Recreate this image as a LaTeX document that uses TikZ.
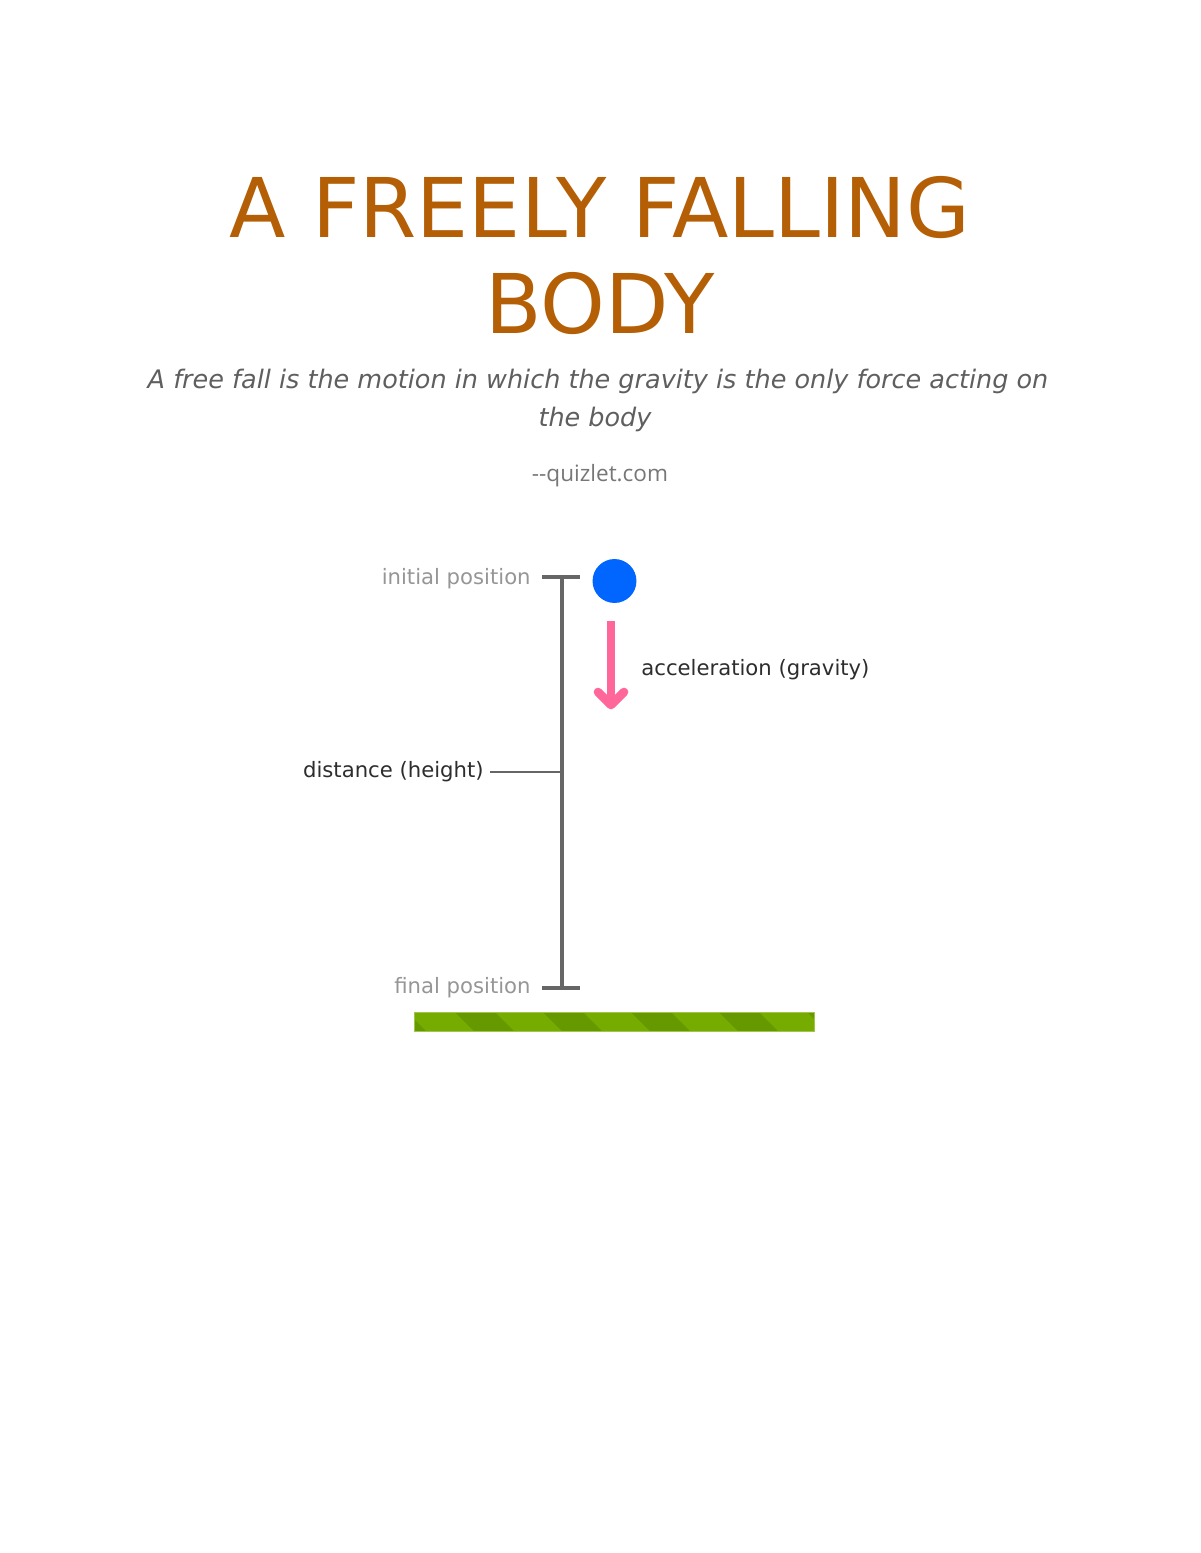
\documentclass[tikz,border=0pt]{standalone}
\usepackage{fontspec}
\setmainfont{DejaVu Sans}
\newfontfamily\opensans{Open Sans}
\definecolor{titlec}{RGB}{180,95,6}
\definecolor{subc}{RGB}{95,95,95}
\definecolor{quizc}{RGB}{119,119,119}
\definecolor{lightlbl}{RGB}{150,150,150}
\definecolor{darklbl}{RGB}{45,45,45}
\definecolor{axisc}{RGB}{102,102,102}
\definecolor{ballc}{RGB}{0,102,255}
\definecolor{arrowc}{RGB}{255,102,153}
\definecolor{grassL}{RGB}{118,172,0}
\definecolor{grassD}{RGB}{102,153,0}
\begin{document}
\begin{tikzpicture}[x=0.51pt,y=-0.51pt,
  titletxt/.style={inner sep=0pt, text=titlec, font=\fontsize{42}{49}\selectfont, anchor=base},
  subtxt/.style={inner sep=0pt, text=subc, font=\itshape\fontsize{13}{19}\selectfont, anchor=base},
  quiztxt/.style={inner sep=0pt, text=quizc, font=\opensans\fontsize{11.5}{14}\selectfont, anchor=base},
  lbl/.style={inner sep=0pt, font=\fontsize{10.8}{13}\selectfont},
  graylbl/.style={lbl, text=lightlbl, anchor=base east},
  darklbl/.style={lbl, text=darklbl},
  axisline/.style={draw=axisc, line width=1.6pt},
  midline/.style={draw=axisc, line width=0.6pt},
  fallarrow/.style={draw=arrowc, line width=4pt},
]
\useasboundingbox (0,0) rectangle (1200,1553);
\fill[white] (0,0) rectangle (1200,1553);

% title and quotation
\node[titletxt] (t1) at (600,237) {A FREELY FALLING};
\node[titletxt] (t2) at (600,333) {BODY};
\node[subtxt] (s1) at (598,388) {A free fall is the motion in which the gravity is the only force acting on};
\node[subtxt] (s2) at (595,426) {the body};
\node[quiztxt] (q) at (600,481) {-{}-quizlet.com};

% labels
\node[graylbl] (init) at (531,584) {initial position};
\node[graylbl] (fin) at (531,993) {final position};
\node[darklbl, anchor=base east] (dist) at (484,777) {distance (height)};
\node[darklbl, anchor=base west] (acc) at (641,675) {acceleration (gravity)};

% measuring bar
\coordinate (vtop) at (562,577);
\coordinate (vbot) at (562,988);
\coordinate (ttL) at (542,577);
\coordinate (ttR) at (580,577);
\coordinate (tbL) at (542,988);
\coordinate (tbR) at (580,988);
\coordinate (mid) at (562,772);
\coordinate (midL) at (490,772);
\draw[axisline] (vtop) -- (vbot);
\draw[axisline] (ttL) -- (ttR);
\draw[axisline] (tbL) -- (tbR);
\draw[midline] (midL) -- (mid);

% ball
\node[circle, fill=ballc, inner sep=0pt, minimum size=22.4pt] (ball) at (614.5,581) {};

% gravity arrow
\coordinate (aTop) at (611,621);
\coordinate (aBot) at (611,702);
\coordinate (wL) at (598,692);
\coordinate (wR) at (624,692);
\coordinate (tip) at (611,705);
\draw[fallarrow] (aTop) -- (aBot);
\draw[fallarrow, line width=4.4pt, line cap=round, line join=round] (wL) -- (tip) -- (wR);

% ground
\begin{scope}
  \clip (414,1012) rectangle (814,1031);
  \fill[grassL] (414,1012) rectangle (814,1031);
  \foreach \k in {-1,...,5} {
    \fill[grassD] ({455+88*\k},1012) -- ({495+88*\k},1012) -- ({514+88*\k},1031) -- ({474+88*\k},1031) -- cycle;
  }
\end{scope}
\draw[draw=grassL!70!white, line width=0.4pt] (414,1012) rectangle (814,1031);
\end{tikzpicture}
\end{document}
